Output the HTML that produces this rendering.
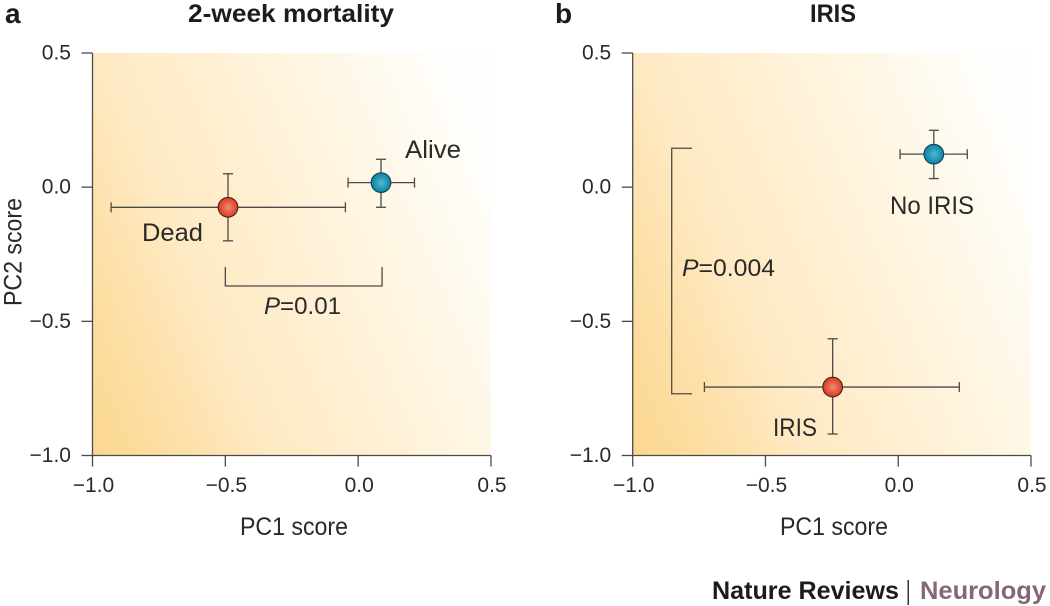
<!DOCTYPE html>
<html>
<head>
<meta charset="utf-8">
<title>PC score charts</title>
<style>
html,body{margin:0;padding:0;background:#fff;width:1050px;height:606px;overflow:hidden}
svg{display:block}
text{font-family:"Liberation Sans",sans-serif;fill:#2a2a2a}
.tick{font-size:21px}
.axt{font-size:25px}
.lab{font-size:25px}
.pv{font-size:24px}
.ttl{font-size:25px;font-weight:bold;fill:#1c1c1c}
.ltr{font-size:28px;font-weight:bold;fill:#1c1c1c}
.foot{font-size:25px;font-weight:bold;fill:#1c1c1c}
</style>
</head>
<body>
<svg id="chart" width="1050" height="606" viewBox="0 0 1050 606" xmlns="http://www.w3.org/2000/svg">
<defs>
<linearGradient id="bgBase" x1="0" y1="0.9" x2="1.05" y2="0.45">
<stop offset="0" stop-color="#fcd993"/>
<stop offset="0.14" stop-color="#fddfa6"/>
<stop offset="0.31" stop-color="#fee9c2"/>
<stop offset="0.55" stop-color="#fff0d4"/>
<stop offset="0.77" stop-color="#fff7e6"/>
<stop offset="0.94" stop-color="#fffcf5"/>
<stop offset="1" stop-color="#fffefc"/>
</linearGradient>
<radialGradient id="redBall" cx="0.52" cy="0.5" r="0.55">
<stop offset="0" stop-color="#ec8e72"/>
<stop offset="0.6" stop-color="#e2553a"/>
<stop offset="1" stop-color="#d03a22"/>
</radialGradient>
<radialGradient id="tealBall" cx="0.52" cy="0.5" r="0.55">
<stop offset="0" stop-color="#58b8cf"/>
<stop offset="0.6" stop-color="#1f95b5"/>
<stop offset="1" stop-color="#12809f"/>
</radialGradient>
</defs>

<g id="plotLayer"></g>

<text class="ltr" x="5" y="23">a</text>
<text class="ttl" x="291" y="22" text-anchor="middle" textLength="206" lengthAdjust="spacingAndGlyphs">2-week mortality</text>
<text class="ltr" x="555" y="23">b</text>
<text class="ttl" x="833" y="22" text-anchor="middle" textLength="46" lengthAdjust="spacingAndGlyphs">IRIS</text>

<text class="axt" transform="translate(21.5,252) rotate(-90)" text-anchor="middle" textLength="108" lengthAdjust="spacingAndGlyphs">PC2 score</text>
<text class="axt" x="294" y="535" text-anchor="middle" textLength="108" lengthAdjust="spacingAndGlyphs">PC1 score</text>
<text class="axt" x="834" y="535" text-anchor="middle" textLength="108" lengthAdjust="spacingAndGlyphs">PC1 score</text>

<text class="lab" x="142" y="241" textLength="61" lengthAdjust="spacingAndGlyphs">Dead</text>
<text class="lab" x="405" y="158" textLength="56" lengthAdjust="spacingAndGlyphs">Alive</text>
<text class="lab" x="890" y="214" textLength="84" lengthAdjust="spacingAndGlyphs">No IRIS</text>
<text class="lab" x="773" y="436" textLength="44" lengthAdjust="spacingAndGlyphs">IRIS</text>

<text class="pv" x="264" y="314" textLength="77" lengthAdjust="spacingAndGlyphs"><tspan font-style="italic">P</tspan>=0.01</text>
<text class="pv" x="682" y="276" textLength="93" lengthAdjust="spacingAndGlyphs"><tspan font-style="italic">P</tspan>=0.004</text>

<text class="foot" x="712" y="599" textLength="187" lengthAdjust="spacingAndGlyphs">Nature Reviews</text>
<rect x="907.5" y="580" width="1.5" height="25" fill="#333"/>
<text class="foot" x="920" y="599" textLength="126" lengthAdjust="spacingAndGlyphs" style="fill:#86677a">Neurology</text>
</svg>

<script>
// Axis ticks
const xTicks = [-1.0, -0.5, 0.0, 0.5];
const yTicks = [0.5, 0.0, -0.5, -1.0];
const tickLabels = ['\u22121.0', '\u22120.5', '0.0', '0.5'];

// Panel a: 2-week mortality
const aGroups = ['dead', 'alive'];
const aPc1 = [-0.49, 0.086];
const aPc1Low = [-0.93, -0.038];
const aPc1High = [-0.048, 0.212];
const aPc2 = [-0.075, 0.017];
const aPc2Low = [-0.2, -0.075];
const aPc2High = [0.05, 0.104];
const aSpan = [-0.5, 0.09];

// Panel b: IRIS
const bGroups = ['no-iris', 'iris'];
const bPc1 = [0.134, -0.247];
const bPc1Low = [0.007, -0.73];
const bPc1High = [0.26, 0.23];
const bPc2 = [0.123, -0.745];
const bPc2Low = [0.032, -0.92];
const bPc2High = [0.212, -0.565];
const bSpan = [-0.77, 0.145];

const layer = document.getElementById('plotLayer');
const NS = 'http://www.w3.org/2000/svg';
const INK = '#4a4a48';

function make(tag, attrs) {
  const el = document.createElementNS(NS, tag);
  for (const k in attrs) el.setAttribute(k, attrs[k]);
  layer.appendChild(el);
  return el;
}
function line(x1, y1, x2, y2, name, w) {
  const el = make('line', {x1: x1, y1: y1, x2: x2, y2: y2, stroke: INK, 'stroke-width': w || 1.3});
  
  
  return el;
}

function drawPanel(id, left, right, groups, pc1, lo1, hi1, pc2, lo2, hi2, colors) {
  const top = 53, bottom = 455.5;
  const sx = v => left + (v + 1) / 1.5 * (right - left);
  const sy = v => bottom - (v + 1) / 1.5 * (bottom - top);

  const bg = make('rect', {x: left, y: top, width: right - left, height: bottom - top, fill: 'url(#bgBase)'});
  
  

  line(left, top, left, bottom, id + '-y-axis');
  line(left, bottom, right, bottom, id + '-x-axis');

  xTicks.forEach((t, i) => {
    line(sx(t), bottom, sx(t), bottom + 11, id + '-x-tick');
    const lbl = make('text', {x: sx(t) + 1, y: 492, 'text-anchor': 'middle', class: 'tick'});
    
    
    lbl.textContent = tickLabels[i];
  });
  yTicks.forEach(t => {
    line(left - 11, sy(t), left, sy(t), id + '-y-tick');
    const lbl = make('text', {x: left - 21.5, y: sy(t) + 6.5, 'text-anchor': 'end', class: 'tick'});
    
    
    lbl.textContent = tickLabels[xTicks.indexOf(t)];
  });

  groups.forEach((g, i) => {
    const cx = sx(pc1[i]), cy = sy(pc2[i]);
    line(sx(lo1[i]), cy, sx(hi1[i]), cy, g + '-pc1-error-bar');
    line(sx(lo1[i]), cy - 5, sx(lo1[i]), cy + 5, g + '-pc1-cap-low');
    line(sx(hi1[i]), cy - 5, sx(hi1[i]), cy + 5, g + '-pc1-cap-high');
    line(cx, sy(lo2[i]), cx, sy(hi2[i]), g + '-pc2-error-bar');
    line(cx - 5, sy(lo2[i]), cx + 5, sy(lo2[i]), g + '-pc2-cap-low');
    line(cx - 5, sy(hi2[i]), cx + 5, sy(hi2[i]), g + '-pc2-cap-high');
    const dot = make('circle', {cx: cx, cy: cy, r: 9.8, fill: colors[i][0], stroke: colors[i][1], 'stroke-width': 1.2});
    
    
  });
  return {sx: sx, sy: sy};
}

const pa = drawPanel('panel-a', 92.5, 491, aGroups, aPc1, aPc1Low, aPc1High, aPc2, aPc2Low, aPc2High,
  [['url(#redBall)', '#5a2318'], ['url(#tealBall)', '#0f4658']]);
const pb = drawPanel('panel-b', 632.7, 1031, bGroups, bPc1, bPc1Low, bPc1High, bPc2, bPc2Low, bPc2High,
  [['url(#tealBall)', '#0f4658'], ['url(#redBall)', '#5a2318']]);

// Significance brackets
const bracketA = make('path', {
  d: 'M' + pa.sx(aSpan[0]) + ' 267V286H' + pa.sx(aSpan[1]) + 'V267',
  fill: 'none', stroke: INK, 'stroke-width': 1.3
});



const bracketB = make('path', {
  d: 'M692 ' + pb.sy(bSpan[1]) + 'H671.7V' + pb.sy(bSpan[0]) + 'H692',
  fill: 'none', stroke: INK, 'stroke-width': 1.3
});


</script>
</body>
</html>
